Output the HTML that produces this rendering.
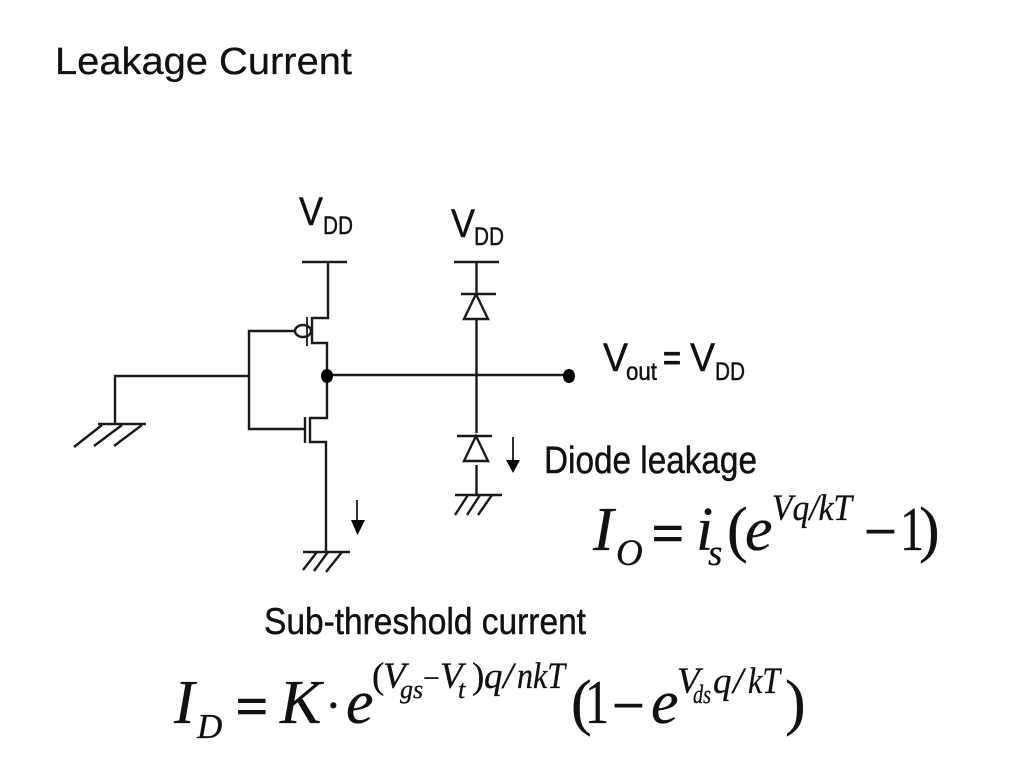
<!DOCTYPE html>
<html><head><meta charset="utf-8"><style>
html,body{margin:0;padding:0;background:#fff;width:1024px;height:768px;overflow:hidden}
svg{display:block}
.s{font-family:"Liberation Sans",sans-serif;fill:#111;stroke:#111;stroke-width:.45}
.m{font-family:"Liberation Serif",serif;font-style:italic;fill:#111;stroke:#111;stroke-width:.3}
.r{font-family:"Liberation Serif",serif;fill:#111;stroke:#111;stroke-width:.3}
.b{font-family:"Liberation Serif",serif;fill:#111;stroke:#111;stroke-width:1.4}
.l{fill:none;stroke:#1a1a1a;stroke-width:2.4}
</style></head><body>
<svg width="1024" height="768" viewBox="0 0 1024 768" xmlns="http://www.w3.org/2000/svg">
<text class="s" x="55" y="74" font-size="38" textLength="297" lengthAdjust="spacingAndGlyphs" style="stroke-width:.25">Leakage Current</text>

<g class="l">
<path d="M302 262H347M328 262V318H312V343H327V418H310V442H326V552"/>
<path d="M307 317V346" stroke-width="1.8"/>
<ellipse cx="303" cy="331" rx="8" ry="6"/>
<path d="M295 331H249V429H304M249 376H115V424"/>
<path d="M305 417V443" />
<path d="M98 424H146M102 425L74 447M122 425L94 446M142 425L114 446"/>
<path d="M303 552H350M317 552L303 570M328 552L314 571M342 552L326 572"/>
<path d="M327 375H569"/>
<path d="M454 262H499M476.500 262V294M461 294H496M476 294L464 319H488Z M476.500 319V433M457 436H492M476 436L464 461H488Z M476.500 465V495M455 495H502M468 495L455 515M480 495L467 515M492 495L478 515"/>
<path d="M357 500V521M513 437V461" stroke-width="1.800"/>
</g>
<ellipse cx="327" cy="376" rx="6" ry="7" fill="#000"/>
<ellipse cx="569" cy="376" rx="6" ry="7" fill="#000"/>
<path d="M351 520H365L357.500 535ZM506 460H520L513 473Z" fill="#000"/>

<text class="s" x="299" y="225" font-size="40" textLength="24" lengthAdjust="spacingAndGlyphs">V</text>
<text class="s" x="323" y="234" font-size="25" textLength="30" lengthAdjust="spacingAndGlyphs">DD</text>
<text class="s" x="451" y="237" font-size="40" textLength="24" lengthAdjust="spacingAndGlyphs">V</text>
<text class="s" x="474" y="245" font-size="25" textLength="30" lengthAdjust="spacingAndGlyphs">DD</text>
<text class="s" x="603" y="371" font-size="40" textLength="25" lengthAdjust="spacingAndGlyphs">V</text>
<text class="s" x="626" y="380" font-size="25" textLength="31" lengthAdjust="spacingAndGlyphs">out</text>
<text class="s" x="663" y="370" font-size="36" textLength="18" lengthAdjust="spacingAndGlyphs" style="stroke-width:1">=</text>
<text class="s" x="690" y="371" font-size="40" textLength="25" lengthAdjust="spacingAndGlyphs">V</text>
<text class="s" x="715" y="380" font-size="25" textLength="30" lengthAdjust="spacingAndGlyphs">DD</text>
<text class="s" x="544" y="473" font-size="38" textLength="213" lengthAdjust="spacingAndGlyphs">Diode leakage</text>
<text class="s" x="264" y="634" font-size="37" textLength="322" lengthAdjust="spacingAndGlyphs">Sub-threshold current</text>

<text class="m" x="593" y="550" font-size="62">I</text>
<text class="m" x="616" y="565" font-size="37">O</text>
<text class="b" x="652" y="552" font-size="56">=</text>
<text class="m" x="696" y="550" font-size="62">i</text>
<text class="m" x="708" y="565" font-size="37">s</text>
<text class="r" x="727" y="550" font-size="62">(</text>
<text class="m" x="745" y="550" font-size="62">e</text>
<text class="m" x="772" y="520" font-size="37" textLength="80" lengthAdjust="spacingAndGlyphs">Vq/kT</text>
<text class="b" x="864" y="551" font-size="58" style="stroke-width:.8">−</text>
<text class="r" x="900" y="550" font-size="62" textLength="24" lengthAdjust="spacingAndGlyphs">1</text>
<text class="r" x="919" y="550" font-size="62">)</text>

<text class="m" x="174" y="723" font-size="62">I</text>
<text class="m" x="197" y="738" font-size="35">D</text>
<text class="b" x="236" y="725" font-size="56">=</text>
<text class="m" x="280" y="723" font-size="62">K</text>
<text class="r" x="326" y="720" font-size="44" style="stroke-width:1">·</text>
<text class="m" x="346" y="723" font-size="62">e</text>
<text class="r" x="372" y="688" font-size="37">(</text>
<text class="m" x="383" y="688" font-size="37">V</text>
<text class="m" x="400" y="698" font-size="26">gs</text>
<text class="r" x="423" y="688" font-size="30">−</text>
<text class="m" x="440" y="688" font-size="37">V</text>
<text class="m" x="458" y="698" font-size="26">t</text>
<text class="r" x="472" y="688" font-size="37">)</text>
<text class="m" x="484" y="688" font-size="37">q</text>
<text class="m" x="503" y="688" font-size="37">/</text>
<text class="m" x="517" y="688" font-size="37" textLength="48" lengthAdjust="spacingAndGlyphs">nkT</text>
<text class="r" x="571" y="723" font-size="62">(</text>
<text class="r" x="585" y="723" font-size="62" textLength="24" lengthAdjust="spacingAndGlyphs">1</text>
<text class="b" x="612" y="725" font-size="58" style="stroke-width:.8">−</text>
<text class="m" x="651" y="723" font-size="62">e</text>
<text class="m" x="677" y="693" font-size="37">V</text>
<text class="m" x="693" y="703" font-size="26" textLength="18" lengthAdjust="spacingAndGlyphs">ds</text>
<text class="m" x="713" y="693" font-size="37">q</text>
<text class="m" x="733" y="693" font-size="37">/</text>
<text class="m" x="748" y="693" font-size="37" textLength="32" lengthAdjust="spacingAndGlyphs">kT</text>
<text class="r" x="785" y="723" font-size="62">)</text>
</svg>
</body></html>
